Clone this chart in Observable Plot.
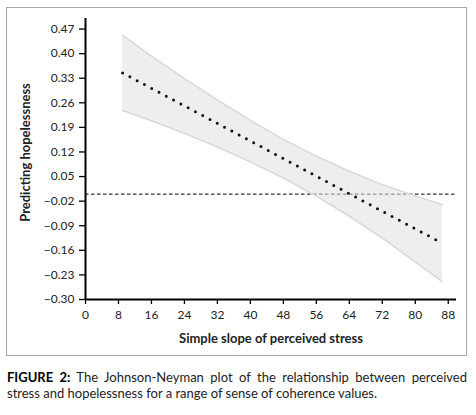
<!DOCTYPE html>
<html>
<head>
<meta charset="utf-8">
<script src="https://cdn.jsdelivr.net/npm/d3@7"></script>
<script src="https://cdn.jsdelivr.net/npm/@observablehq/plot@0.6"></script>
<style>
  body { margin: 0; background: #fff; }
  #wrap { position: relative; width: 476px; height: 415px; font-family: Lato, sans-serif; }
  #chart { position: absolute; left: 0; top: 0; }
  .frame { position: absolute; left: 6px; top: 7px; width: 459px; height: 347px;
           border: 1px solid #a8a8a8; pointer-events: none; }
  .cap { position: absolute; left: 7px; top: 370px; width: 460px; font-size: 13px;
         line-height: 15.6px; color: #222; }
  .cap .l1 { text-align: justify; text-align-last: justify; }
  .cap b { color: #000; }
</style>
</head>
<body>
<div id="wrap">
  <div id="chart"></div>
  <div class="frame"></div>
  <div class="cap">
    <div class="l1"><b>FIGURE 2:</b> <span>The Johnson-Neyman plot of the relationship between perceived</span></div>
    <div class="l2">stress and hopelessness for a range of sense of coherence values.</div>
  </div>
</div>
<script>
// confidence band
var bandX = [9, 16, 24, 32, 40, 48, 56, 64, 72, 80, 86.6];
var upper = [0.452, 0.393, 0.329, 0.268, 0.210, 0.156, 0.108, 0.065, 0.027, -0.005, -0.030];
var lower = [0.238, 0.209, 0.173, 0.134, 0.092, 0.046, -0.006, -0.063, -0.125, -0.193, -0.250];
// the dotted estimate line
var estX = [9, 85];
var estimate = [0.345, -0.130];

var xTicks = [0, 8, 16, 24, 32, 40, 48, 56, 64, 72, 80, 88];
var yTicks = [-0.30, -0.23, -0.16, -0.09, -0.02, 0.05, 0.12, 0.19, 0.26, 0.33, 0.40, 0.47];
var xTitle = 'Simple slope of perceived stress';
var yTitle = 'Predicting hopelessness';

var band = bandX.map(function (x, i) { return { x: x, lo: lower[i], hi: upper[i] }; });
var est = estX.map(function (x, i) { return { x: x, y: estimate[i] }; });

var chart = Plot.plot({
  width: 476,
  height: 360,
  marginLeft: 85,
  marginRight: 20,
  marginTop: 18,
  marginBottom: 61,
  x: { domain: [0, 90] },
  y: { domain: [-0.30, 0.50] },
  style: { fontFamily: 'Lato, sans-serif', fontSize: '12px', color: '#222', background: 'transparent' },
  marks: [
    Plot.ruleY([0], { stroke: '#000', strokeWidth: 1, strokeDasharray: '3.5,2.5' }),
    Plot.areaY(band, { x: 'x', y1: 'lo', y2: 'hi', fill: '#dfe1e1', fillOpacity: 0.55 }),
    Plot.line(band, { x: 'x', y: 'hi', stroke: '#d8d8d8', strokeWidth: 1.5 }),
    Plot.line(band, { x: 'x', y: 'lo', stroke: '#d8d8d8', strokeWidth: 1.5 }),
    Plot.line(est, { x: 'x', y: 'y', stroke: '#111', strokeWidth: 3, strokeLinecap: 'round',
                     strokeDasharray: '0,8.25' }),
    Plot.axisY({ ticks: yTicks, tickSize: 6, tickPadding: 5, tickFormat: '.2f', label: null,
                 stroke: '#000', strokeWidth: 1.3 }),
    Plot.axisX({ ticks: xTicks, tickSize: 5, tickPadding: 6, label: null,
                 stroke: '#000', strokeWidth: 1.3 }),
    Plot.ruleX([0], { stroke: '#000', strokeWidth: 2 }),
    Plot.ruleY([-0.30], { stroke: '#000', strokeWidth: 2 }),
    Plot.text([xTitle], { frameAnchor: 'bottom', lineAnchor: 'middle', text: function (d) { return d; },
                          dy: 39, fontWeight: 'bold', fontSize: 13, fill: '#222' }),
    Plot.text([yTitle], { frameAnchor: 'left', text: function (d) { return d; }, dx: -60, dy: -6.5,
                          textAnchor: 'middle', rotate: -90, fontWeight: 'bold', fontSize: 13, fill: '#222' })
  ]
});
document.getElementById('chart').appendChild(chart);
</script>
</body>
</html>
